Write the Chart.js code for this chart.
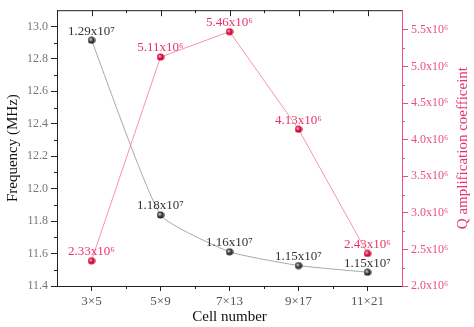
<!DOCTYPE html>
<html>
<head>
<meta charset="utf-8">
<script src="https://cdn.jsdelivr.net/npm/chart.js@4"></script>
<style>
  html, body { margin: 0; padding: 0; background: #fff; }
</style>
</head>
<body>
<canvas id="chart" width="474" height="327"></canvas>
<script>
// dados
const cells = ['3×5', '5×9', '7×13', '9×17', '11×21'];
const freqMHz = [12.915, 11.838, 11.611, 11.526, 11.485];
const freqText = ['1.29x10⁷', '1.18x10⁷', '1.16x10⁷', '1.15x10⁷', '1.15x10⁷'];
const qCoef = [2.345e6, 5.13e6, 5.477e6, 4.143e6, 2.445e6];
const qText = ['2.33x10⁶', '5.11x10⁶', '5.46x10⁶', '4.13x10⁶', '2.43x10⁶'];
const qTicks = [2.0e6, 2.5e6, 3.0e6, 3.5e6, 4.0e6, 4.5e6, 5.0e6, 5.5e6];

const PINK = '#e8336a';
const PINK_AXIS = '#e8507f';
const SERIF = '"Liberation Serif", "DejaVu Serif", serif';

// esfera com brilho para os pontos
function sphere(dark, mid, light) {
    const c = document.createElement('canvas');
    c.width = c.height = 8;
    const g = c.getContext('2d');
    const grd = g.createRadialGradient(3, 3, 0.3, 4, 4, 4);
    grd.addColorStop(0, light);
    grd.addColorStop(0.45, mid);
    grd.addColorStop(1, dark);
    g.fillStyle = grd;
    g.beginPath();
    g.arc(4, 4, 3.6, 0, Math.PI * 2);
    g.fill();
    return c;
}
const blackBall = sphere('#111', '#444', '#ddd');
const redBall = sphere('#b0002a', '#e0103f', '#ffc0d0');

// rótulos acima dos pontos
const pointLabels = {
    id: 'pointLabels',
    afterDatasetsDraw(chart) {
        const ctx = chart.ctx;
        ctx.save();
        ctx.font = '13px ' + SERIF;
        ctx.textAlign = 'center';
        ctx.textBaseline = 'middle';
        chart.data.datasets.forEach((ds, di) => {
            const meta = chart.getDatasetMeta(di);
            ctx.fillStyle = ds.labelColor;
            meta.data.forEach((pt, i) => {
                ctx.fillText(ds.labels[i], pt.x, pt.y - 9);
            });
        });
        ctx.restore();
    }
};

// moldura superior, ticks menores e título do eixo direito
const axisDecor = {
    id: 'axisDecor',
    afterDraw(chart) {
        const { ctx, chartArea: a, scales } = chart;
        const x = scales.x, y = scales.y, y1 = scales.y1;
        const seg = (x1, yA, x2, yB) => { ctx.beginPath(); ctx.moveTo(x1, yA); ctx.lineTo(x2, yB); ctx.stroke(); };
        ctx.save();
        ctx.lineWidth = 1;
        ctx.strokeStyle = '#222';
        seg(a.left, a.top + 0.5, a.right, a.top + 0.5);
        for (let i = 0; i < cells.length; i++) {
            const px = Math.round(x.getPixelForValue(i)) + 0.5;
            seg(px, a.top, px, a.top + 6);
        }
        for (let i = 0; i < cells.length - 1; i++) {
            const px = Math.round(x.getPixelForValue(i + 0.5)) + 0.5;
            seg(px, a.top, px, a.top + 3);
            seg(px, a.bottom, px, a.bottom + 3);
        }
        for (let k = 0; k < 8; k++) {
            const py = Math.round(y.getPixelForValue(11.5 + 0.2 * k)) + 0.5;
            seg(a.left - 3, py, a.left, py);
        }
        ctx.strokeStyle = PINK_AXIS;
        for (let k = 0; k < 7; k++) {
            const py = Math.round(y1.getPixelForValue(2.25e6 + 0.5e6 * k)) + 0.5;
            seg(a.right, py, a.right + 3, py);
        }
        ctx.translate(463, (a.top + a.bottom) / 2);
        ctx.rotate(-Math.PI / 2);
        ctx.font = '15px ' + SERIF;
        ctx.fillStyle = PINK;
        ctx.textAlign = 'center';
        ctx.textBaseline = 'middle';
        ctx.fillText('Q amplification coefficeint', 0, 0);
        ctx.restore();
    }
};

new Chart(document.getElementById('chart'), {
    type: 'line',
    data: {
        labels: cells,
        datasets: [
            {
                label: 'Frequency',
                data: freqMHz,
                labels: freqText,
                labelColor: '#333',
                yAxisID: 'y',
                borderColor: '#a8a8a8',
                borderWidth: 1,
                tension: 0.15,
                pointStyle: blackBall,
                pointRadius: 4,
                clip: false
            },
            {
                label: 'Q amplification coefficeint',
                data: qCoef,
                labels: qText,
                labelColor: PINK,
                yAxisID: 'y1',
                borderColor: '#f295b0',
                borderWidth: 1,
                tension: 0,
                pointStyle: redBall,
                pointRadius: 4,
                clip: false
            }
        ]
    },
    options: {
        responsive: false,
        animation: false,
        layout: { padding: { top: 6, left: 0, right: 0, bottom: 0 } },
        plugins: {
            legend: { display: false },
            tooltip: { enabled: false }
        },
        scales: {
            x: {
                type: 'category',
                offset: true,
                afterFit(s) { s.height = 41; },
                border: { color: '#222', width: 1 },
                grid: { drawOnChartArea: false, tickLength: 5, color: '#222' },
                ticks: { color: '#555', font: { family: SERIF, size: 13 }, padding: 3, maxRotation: 0 },
                title: { display: true, text: 'Cell number', color: '#111', font: { family: SERIF, size: 15 }, padding: { top: 0, bottom: 1 } }
            },
            y: {
                position: 'left',
                min: 11.4,
                max: 13.1,
                afterFit(s) { s.width = 57; },
                afterBuildTicks(s) { s.ticks = s.ticks.filter(t => Math.abs(t.value * 5 - Math.round(t.value * 5)) < 1e-6); },
                border: { color: '#222', width: 1 },
                grid: { drawOnChartArea: false, tickLength: 6, color: '#222' },
                ticks: { stepSize: 0.2, autoSkip: false, color: '#777', font: { family: SERIF, size: 12 }, padding: 3, callback: v => v.toFixed(1) },
                title: { display: true, text: 'Frequency (MHz)', color: '#111', font: { family: SERIF, size: 15 }, padding: 4 }
            },
            y1: {
                position: 'right',
                min: 2.0e6,
                max: 5.77e6,
                afterFit(s) { s.width = 72; },
                afterBuildTicks(s) { s.ticks = qTicks.map(v => ({ value: v })); },
                border: { color: PINK_AXIS, width: 1 },
                grid: { drawOnChartArea: false, tickLength: 6, color: PINK_AXIS },
                ticks: { autoSkip: false, color: PINK_AXIS, font: { family: SERIF, size: 12 }, padding: 3, callback: v => (v / 1e6).toFixed(1) + 'x10⁶' },
                title: { display: false }
            }
        }
    },
    plugins: [pointLabels, axisDecor]
});
</script>
</body>
</html>
